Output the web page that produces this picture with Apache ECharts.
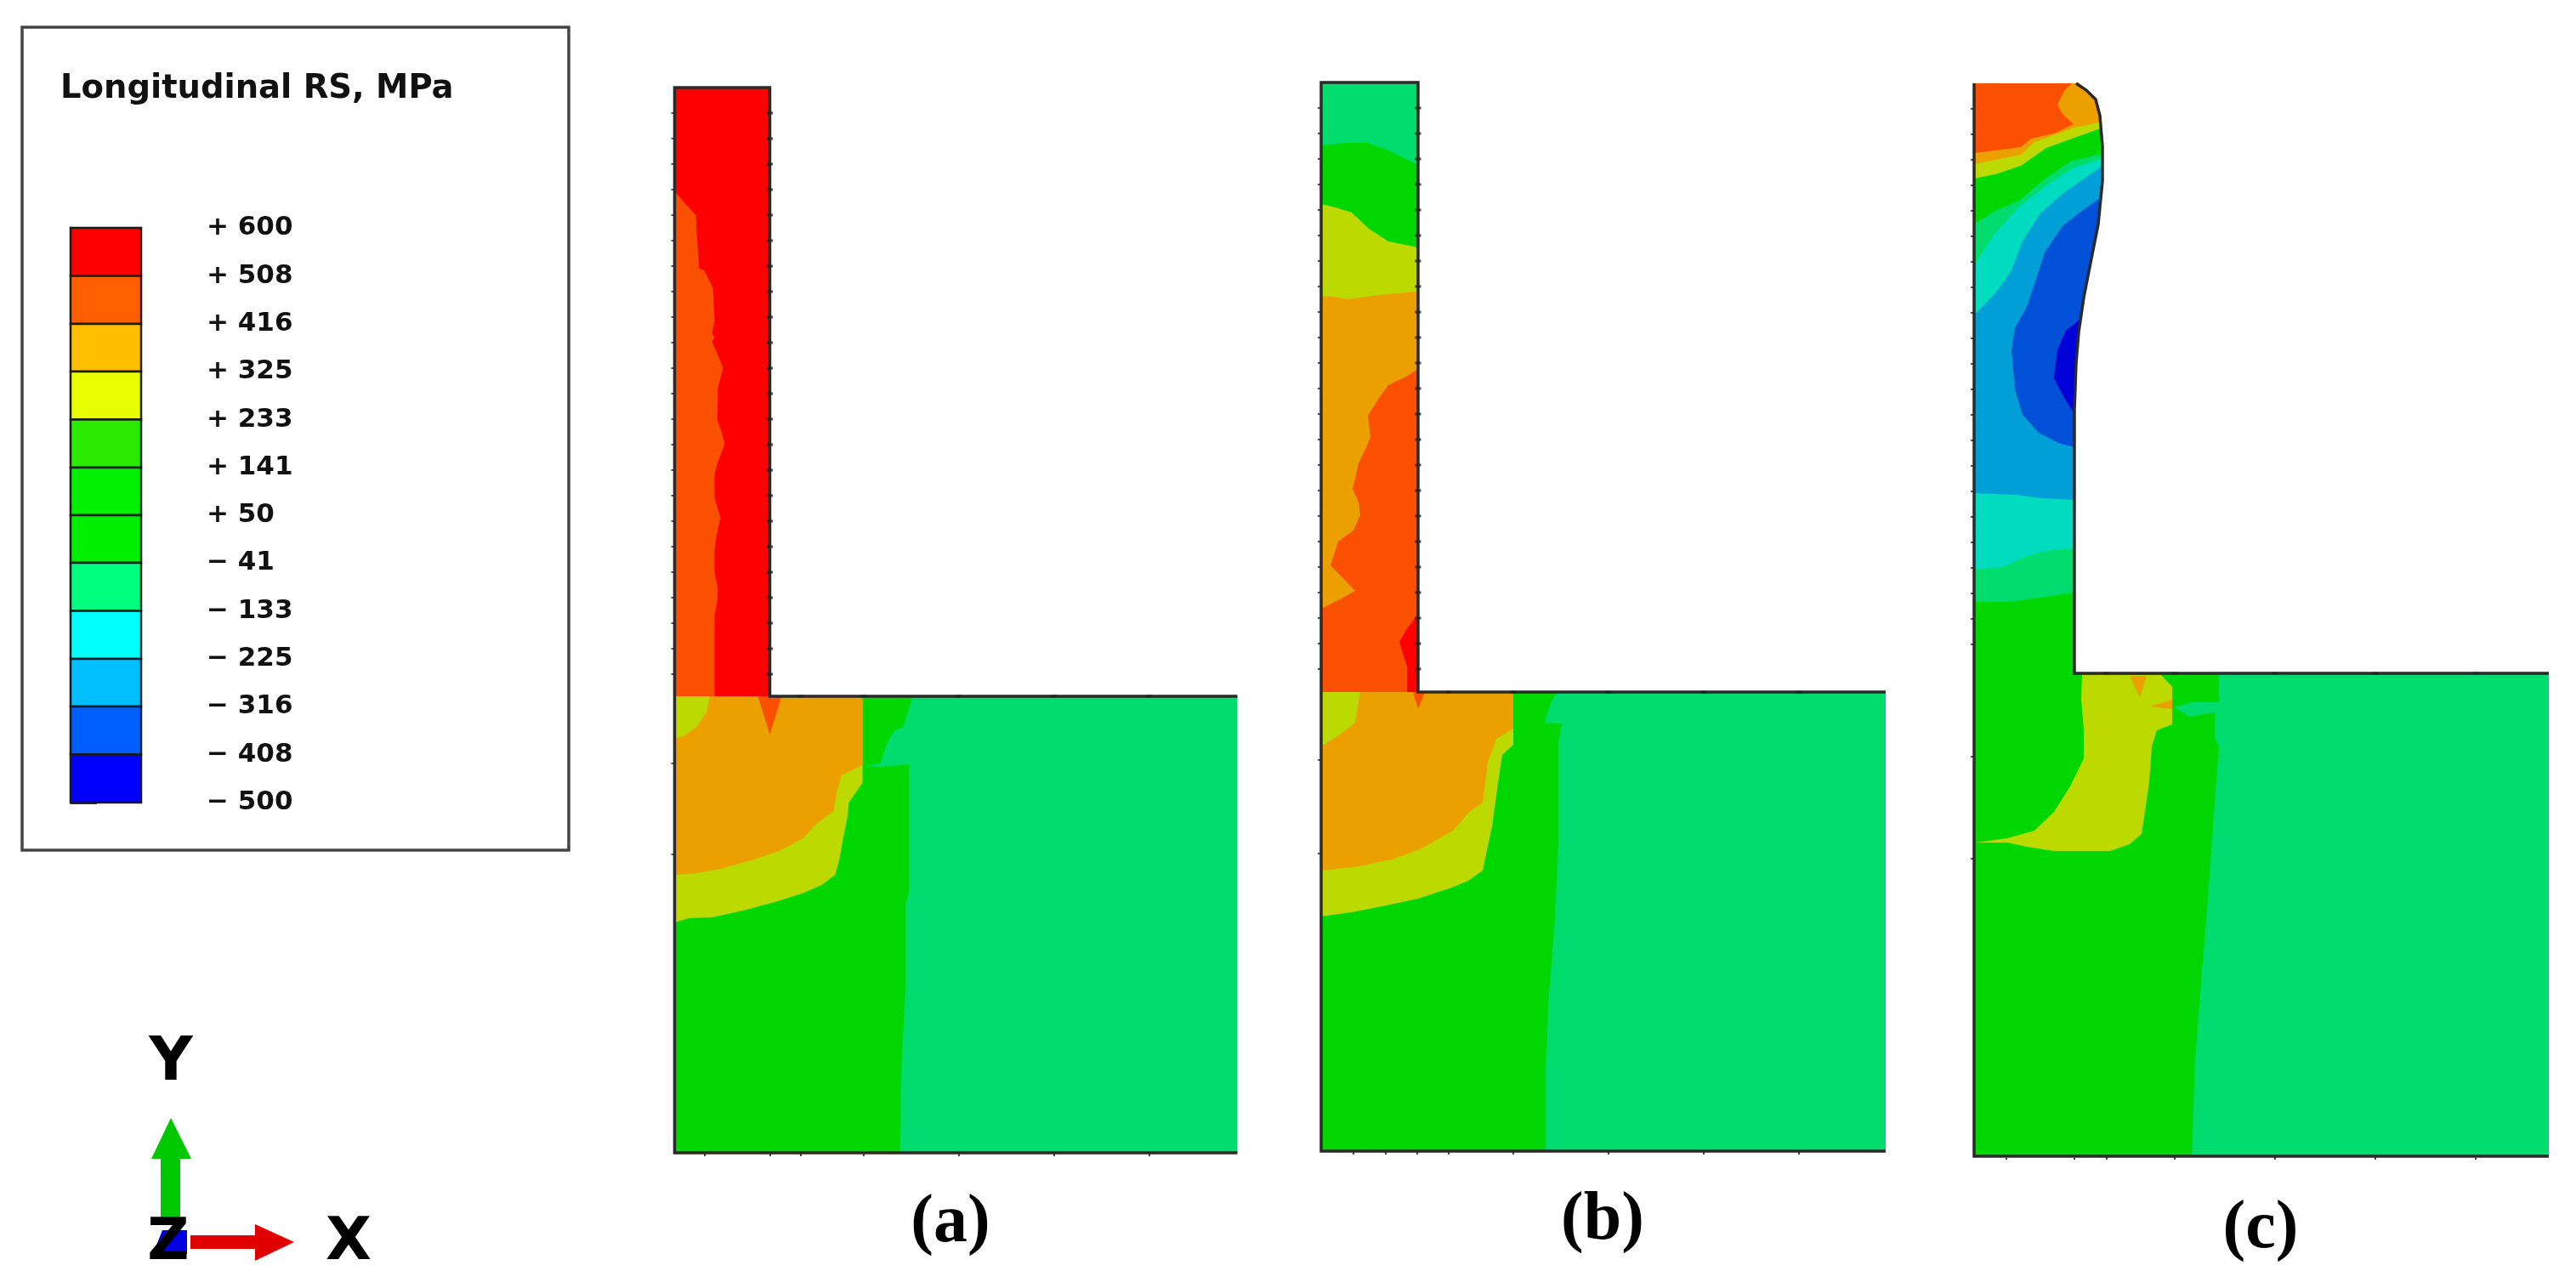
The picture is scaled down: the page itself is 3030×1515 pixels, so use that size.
<!DOCTYPE html>
<html>
<head>
<meta charset="utf-8">
<title>Longitudinal RS</title>
<script src="https://cdn.jsdelivr.net/npm/echarts@6/dist/echarts.min.js"></script>
<style>
html,body{margin:0;padding:0;background:#fff}
#main{width:3030px;height:1515px}
</style>
</head>
<body>
<div id="main"></div>
<script>
// legend levels, top to bottom
var levels = [600, 508, 416, 325, 233, 141, 50, -41, -133, -225, -316, -408, -500];
var levelColors = ['#ff0000','#ff5f00','#ffbf00','#e8ff00','#2aea00','#00f000','#00ee00','#00ff7f','#00ffff','#00bfff','#005fff','#0000ff'];

// contour colours as they look in the three panels
var fill = {
	red:'#ff0000', orange:'#fa5000', amber:'#eba000', yellow:'#bcd900', green:'#00d600',
	mint:'#00dc6e', teal:'#00dcc0', blue:'#009fd8', dark:'#0050d8', navy:'#0000d8'
};

// panel (a), contours, painted in this order
var panelAContours = [
	['mint', [[0,0],[662,0],[662,537],[0,537]]],
	['red', [[0,537],[112,537],[112,1253],[0,1253]]],
	['orange', [[0,1131],[12,1117],[25,1103],[26,1081],[29,1040],[35,1038],[45,1017],[47,979],[44,964],[47,959],[44,954],[51,938],[57,923],[51,900],[50,862],[54,852],[59,834],[51,813],[47,798],[47,770],[54,747],[49,724],[47,709],[47,683],[51,663],[50,648],[47,632],[47,537],[0,537]]],
	['green', [[0,0],[265,0],[267,107],[272,200],[272,294],[276,308],[276,457],[242,454],[224,455],[242,458],[249,480],[258,496],[269,501],[280,537],[0,537]]],
	['yellow', [[0,537],[221,537],[221,435],[205,412],[203,393],[198,369],[194,346],[189,327],[173,315],[150,305],[118,295],[81,285],[44,277],[17,276],[0,271]]],
	['amber', [[41,537],[221,537],[221,456],[196,444],[191,426],[187,402],[168,388],[150,369],[123,355],[90,344],[54,334],[26,329],[0,327],[0,487],[12,491],[26,501],[38,519]]],
	['orange', [[98,537],[126,537],[112,492]]]
];
var panelAOutline = [[662,0],[0,0],[0,1253],[112,1253],[112,537],[662,537]];
var panelALeftTicks = [1223,1193,1163,1133,1103,1073,1043,1013,983,953,923,893,863,833,803,773,743,713,683,653,623,593,563,458,351];
var panelAWebTicks = [1223,1193,1163,1133,1103,1073,1043,1013,983,953,923,893,863,833,803,773,743,713,683,653,623,593,563];
var panelABottomTicks = [35,112,148,222,334,446,558];

// panel (b)
var panelBContours = [
	['mint', [[0,0],[664,0],[664,540],[0,540]]],
	['orange', [[0,540],[114,540],[114,1257],[0,1257]]],
	['amber', [[114,920],[100,911],[79,901],[68,886],[55,865],[58,840],[54,830],[44,809],[40,791],[37,779],[44,763],[46,748],[38,730],[20,717],[11,689],[40,659],[22,649],[0,638],[0,1257],[114,1257]]],
	['yellow', [[114,1011],[68,1007],[31,1002],[15,1005],[0,1006],[0,1257],[114,1257]]],
	['green', [[114,1063],[79,1070],[56,1085],[36,1104],[17,1110],[0,1114],[0,1257],[114,1257]]],
	['mint', [[114,1160],[77,1178],[54,1186],[27,1186],[0,1183],[0,1257],[114,1257]]],
	['red', [[114,632],[100,613],[92,599],[101,570],[101,540],[114,540]]],
	['green', [[0,0],[264,0],[264,96],[268,185],[275,274],[279,363],[279,480],[283,503],[263,504],[270,527],[277,540],[0,540]]],
	['yellow', [[0,540],[226,540],[226,478],[213,466],[208,433],[201,382],[194,349],[190,330],[173,318],[151,309],[114,297],[72,288],[36,281],[0,276]]],
	['amber', [[46,540],[226,540],[226,497],[206,485],[196,457],[190,410],[173,398],[155,377],[118,356],[86,344],[45,335],[0,330],[0,476],[22,490],[40,504],[45,536]]],
	['orange', [[108,540],[122,540],[114,520]]]
];
var panelBOutline = [[664,0],[0,0],[0,1257],[114,1257],[114,540],[664,540]];
var panelBLeftTicks = [1227,1197,1167,1137,1107,1077,1047,1017,987,957,927,897,867,837,807,777,747,717,687,657,627,597,567,460,350];
var panelBWebTicks = [1227,1197,1167,1137,1107,1077,1047,1017,987,957,927,897,867,837,807,777,747,717,687,657,627,597,567];
var panelBBottomTicks = [38,76,113,150,226,338,450,562];

// panel (c), the web bulges out near the top
var panelCContours = [
	['mint', [[0,0],[676,0],[676,568],[0,568]]],
	['green', [[0,0],[256,0],[260,112],[267,205],[274,290],[278,346],[283,416],[288,482],[283,491],[283,522],[253,517],[235,528],[257,534],[288,534],[288,568],[118,568],[118,877],[120,933],[123,969],[129,1010],[139,1061],[146,1096],[151,1147],[151,1188],[148,1224],[143,1243],[132,1254],[120,1262],[0,1262]]],
	['mint', [[0,652],[39,652],[71,656],[118,663],[118,877],[120,933],[123,969],[129,1010],[139,1061],[146,1096],[151,1147],[151,1188],[148,1224],[143,1243],[132,1254],[120,1262],[0,1262]]],
	['teal', [[0,690],[34,693],[62,706],[90,713],[118,715],[118,877],[120,933],[123,969],[129,1010],[139,1061],[146,1096],[151,1147],[151,1188],[148,1224],[143,1243],[132,1254],[120,1262],[0,1262]]],
	['blue', [[0,780],[48,778],[80,774],[118,772],[118,877],[120,933],[123,969],[129,1010],[139,1061],[146,1096],[151,1147],[151,1188],[148,1224],[143,1243],[132,1254],[120,1262],[0,1262]]],
	['dark', [[148,1127],[127,1112],[104,1094],[83,1063],[74,1035],[62,999],[48,974],[44,948],[48,902],[57,872],[76,851],[99,839],[118,834],[118,877],[120,933],[123,969],[129,1010],[139,1061],[146,1096]]],
	['navy', [[125,985],[108,971],[98,948],[94,915],[106,892],[118,873],[118,877],[120,933],[123,969]]],
	['teal', [[0,989],[25,1015],[43,1040],[57,1076],[78,1109],[104,1132],[151,1165],[151,1188],[148,1224],[143,1243],[132,1254],[120,1262],[0,1262]]],
	['mint', [[0,1048],[25,1086],[53,1117],[85,1142],[118,1163],[151,1173],[151,1188],[148,1224],[143,1243],[132,1254],[120,1262],[0,1262]]],
	['green', [[0,1096],[25,1112],[53,1124],[80,1147],[113,1170],[150,1179],[151,1188],[148,1224],[143,1243],[132,1254],[120,1262],[0,1262]]],
	['yellow', [[0,1150],[25,1155],[55,1165],[85,1186],[118,1198],[149,1209],[148,1224],[143,1243],[132,1254],[120,1262],[0,1262]]],
	['amber', [[0,1167],[25,1172],[55,1178],[71,1193],[99,1203],[118,1210],[147,1216],[148,1224],[143,1243],[132,1254],[120,1262],[0,1262]]],
	['orange', [[0,1262],[115,1262],[106,1253],[98,1237],[104,1226],[117,1214],[94,1203],[67,1197],[55,1187],[25,1183],[0,1180]]],
	['yellow', [[127,566],[220,566],[233,552],[233,508],[215,501],[209,482],[206,440],[202,412],[197,379],[183,367],[160,359],[94,359],[62,364],[39,369],[2,369],[39,374],[71,383],[94,405],[113,435],[129,468],[129,501],[126,538]]],
	['amber', [[183,565],[203,565],[195,540]]],
	['amber', [[206,529],[233,537],[233,526]]]
];
// top of panel (c) has no black line, only the side walls do
var panelCOutline = [[676,0],[0,0],[0,1262]];
var panelCWeb = [[120,1262],[132,1254],[143,1243],[148,1224],[151,1188],[151,1147],[146,1096],[139,1061],[129,1010],[123,969],[120,933],[118,877],[118,568],[676,568]];
var panelCLeftTicks = [1232,1202,1172,1142,1112,1082,1052,1022,992,962,932,902,872,842,812,782,752,722,692,662,632,602,470,350];
var panelCWebTicks = [];
var panelCBottomTicks = [38,118,156,236,354,472,590];

var captions = ['a','b','c'];

var panels = [
	{contours:panelAContours, lines:[panelAOutline], left:panelALeftTicks, web:panelAWebTicks, bottom:panelABottomTicks,
	 x:793.5, y:103, w:662, h:1253, webW:112, flangeH:537, capX:1113, capY:1434},
	{contours:panelBContours, lines:[panelBOutline], left:panelBLeftTicks, web:panelBWebTicks, bottom:panelBBottomTicks,
	 x:1554, y:97, w:664, h:1257, webW:114, flangeH:540, capX:1880, capY:1431},
	{contours:panelCContours, lines:[panelCOutline, panelCWeb], left:panelCLeftTicks, web:panelCWebTicks, bottom:panelCBottomTicks,
	 x:2322, y:98, w:676, h:1262, webW:118, flangeH:568, capX:2654, capY:1441}
];

var grids = [], xAxes = [], yAxes = [], series = [], titles = [];

// colour bar
grids.push({left:83, top:268, width:83, height:676});
xAxes.push({gridIndex:0, type:'value', min:0, max:1, show:false});
yAxes.push({
	gridIndex:0, type:'value', min:-500, max:600, position:'right',
	axisLine:{show:true, lineStyle:{color:'#222', width:3}},
	axisTick:{show:true, length:31, customValues:levels, lineStyle:{color:'#333', width:3}},
	splitLine:{show:false},
	axisLabel:{
		show:true, customValues:levels, margin:77, align:'left', color:'#111',
		fontFamily:'DejaVu Sans', fontWeight:'bold', fontSize:31,
		formatter:function(v){ return (v > 0 ? '+ ' : '\u2212 ') + Math.abs(v); }
	}
});
series.push({
	type:'custom', xAxisIndex:0, yAxisIndex:0, silent:true, animation:false,
	data:levelColors.map(function(c,i){ return [i]; }),
	renderItem:function(params, api){
		var i = params.dataIndex;
		var p0 = api.coord([0, levels[i]]);
		var p1 = api.coord([1, levels[i+1]]);
		return {type:'rect', shape:{x:p0[0], y:p0[1], width:p1[0]-p0[0], height:p1[1]-p0[1]},
			style:{fill:levelColors[i], stroke:'#1a1a1a', lineWidth:2.5}};
	}
});

// three contour panels
panels.forEach(function(p, k){
	var g = k + 1;
	grids.push({left:p.x, top:p.y, width:p.w, height:p.h});
	xAxes.push({
		gridIndex:g, type:'value', min:0, max:p.w, axisLine:{show:false}, splitLine:{show:false},
		axisLabel:{show:false},
		axisTick:{show:true, length:4, customValues:p.bottom, lineStyle:{color:'#444', width:2}}
	});
	yAxes.push({
		gridIndex:g, type:'value', min:0, max:p.h, axisLine:{show:false}, splitLine:{show:false},
		axisLabel:{show:false},
		axisTick:{show:true, length:4, customValues:p.left, lineStyle:{color:'#555', width:2}}
	});
	series.push({
		type:'custom', xAxisIndex:g, yAxisIndex:g, silent:true, animation:false, clip:false,
		data:p.contours.map(function(c,i){ return [i]; }),
		renderItem:function(params, api){
			var c = p.contours[params.dataIndex];
			return {type:'polygon', shape:{points:c[1].map(function(q){ return api.coord(q); })},
				style:{fill:fill[c[0]]}};
		}
	});
	series.push({
		type:'custom', xAxisIndex:g, yAxisIndex:g, silent:true, animation:false, clip:false, z:3,
		data:p.lines.map(function(c,i){ return [i]; }),
		renderItem:function(params, api){
			var line = p.lines[params.dataIndex];
			return {type:'polyline', shape:{points:line.map(function(q){ return api.coord(q); })},
				style:{fill:'none', stroke:'#2a2a2a', lineWidth:3.5}};
		}
	});
	series.push({
		type:'scatter', xAxisIndex:g, yAxisIndex:g, silent:true, animation:false, z:4,
		symbol:'rect', symbolSize:[7,3], itemStyle:{color:'#222'},
		data:p.web.map(function(y){ return [p.webW, y]; })
			.concat(p.bottom.filter(function(x){ return x > p.webW; }).map(function(x){ return [x, p.flangeH]; }))
	});
	titles.push({
		text:'{p|(}{b|' + captions[k] + '}{p|)}', left:p.capX, top:p.capY, textAlign:'center', textVerticalAlign:'middle',
		textStyle:{rich:{
			p:{fontFamily:'Liberation Serif', fontSize:80, color:'#000'},
			b:{fontFamily:'Liberation Serif', fontSize:80, fontWeight:'bold', color:'#000'}
		}}
	});
});

titles.push({
	text:'Longitudinal RS, MPa', left:66, top:80,
	textStyle:{fontFamily:'DejaVu Sans', fontWeight:'bold', fontSize:38.5, color:'#111'}
});

var chart = echarts.init(document.getElementById('main'));
chart.setOption({
	backgroundColor:'#fff',
	animation:false,
	title:titles,
	grid:grids,
	xAxis:xAxes,
	yAxis:yAxes,
	series:series,
	graphic:[
		// legend frame
		{type:'rect', z:-1, shape:{x:26, y:32, width:643, height:968}, style:{fill:'#fff', stroke:'#444', lineWidth:3.5}},
		// coordinate triad
		{type:'polygon', shape:{points:[[191,1447],[220,1447],[220,1475],[180,1475]]}, style:{fill:'#0000e0'}},
		{type:'polygon', shape:{points:[[189,1434],[189,1363],[178,1363],[201,1315],[225,1363],[212,1363],[212,1434]]}, style:{fill:'#00c800'}},
		{type:'polygon', shape:{points:[[224,1453],[300,1453],[300,1440],[346,1461],[300,1483],[300,1469],[224,1469]]}, style:{fill:'#e00000'}},
		{type:'text', x:201, y:1252, style:{text:'Y', font:'bold 71px "DejaVu Sans"', fill:'#000', textAlign:'center', textVerticalAlign:'middle'}},
		{type:'text', x:198, y:1463, style:{text:'Z', font:'bold 68px "DejaVu Sans"', fill:'#000', textAlign:'center', textVerticalAlign:'middle'}},
		{type:'text', x:410, y:1463, style:{text:'X', font:'bold 70px "DejaVu Sans"', fill:'#000', textAlign:'center', textVerticalAlign:'middle'}}
	]
});
</script>
</body>
</html>
